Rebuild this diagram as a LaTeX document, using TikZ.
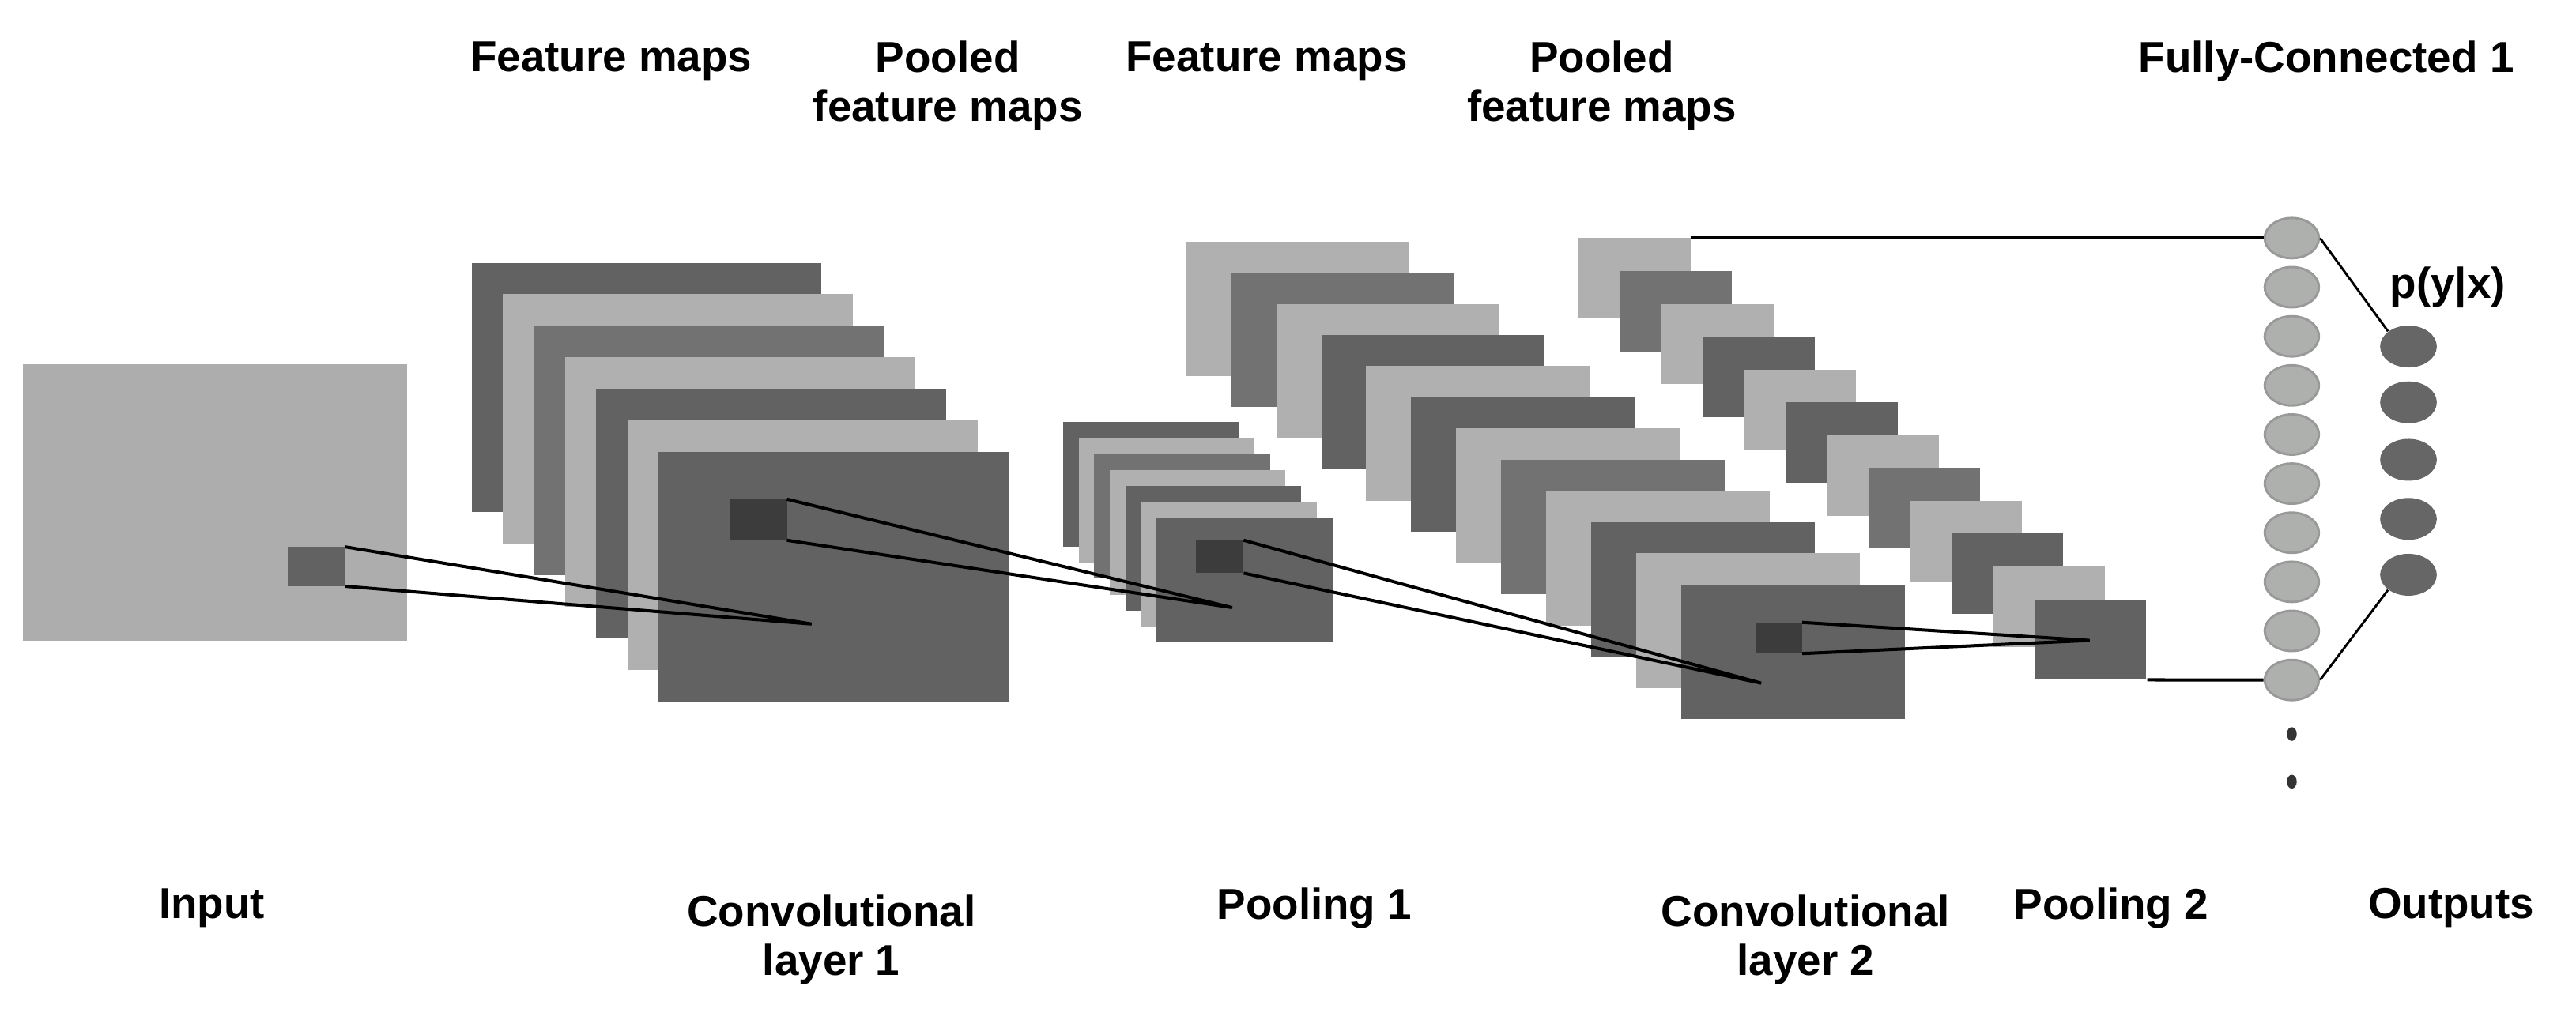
\documentclass[tikz,border=0pt]{standalone}
\usepackage{fontspec}
\setmainfont{Liberation Sans}
\usetikzlibrary{shapes.geometric}
\begin{document}
\begin{tikzpicture}[x=0.02cm,y=-0.02cm,
  lab/.style={font=\fontsize{15}{17}\selectfont\bfseries,align=center},
  ln/.style={line width=1.1pt,black},
  fcn/.style={ellipse,draw=gray!80,line width=0.8pt,fill={rgb,255:red,174;green,176;blue,174},minimum width=0.66cm,minimum height=0.49cm,inner sep=0pt},
  outn/.style={ellipse,fill={rgb,255:red,102;green,102;blue,102},minimum width=0.69cm,minimum height=0.51cm,inner sep=0pt}]
\definecolor{L}{RGB}{176,176,176}
\definecolor{M}{RGB}{114,114,114}
\definecolor{D}{RGB}{98,98,98}
\definecolor{K}{RGB}{60,60,60}
\definecolor{I}{RGB}{173,173,173}
\useasboundingbox (0,0) rectangle (1568,621);
% input
\fill[I] (14,222) rectangle (248,390);
\fill[D] (175,333) rectangle (210,357);
\coordinate (i1) at (210,333); \coordinate (i2) at (210,357);
% conv1
\foreach \c [count=\k from 0] in {D,L,M,L,D,L,D}
  \fill[\c] (287+19*\k,160+19.2*\k) rectangle ++(213,152);
\fill[K] (444,304) rectangle (479,329);
\coordinate (c1) at (494,380);
\coordinate (p1a) at (479,304); \coordinate (p1b) at (479,329);
\draw[ln] (i1) -- (c1) -- (i2);
% pool1
\foreach \c [count=\k from 0] in {D,L,M,L,D,L,D}
  \fill[\c] (647+9.5*\k,257+9.7*\k) rectangle ++(107,76);
\fill[K] (728,329) rectangle (757,349);
\coordinate (c2) at (750,370);
\draw[ln] (p1a) -- (c2) -- (p1b);
\coordinate (q1a) at (757,329); \coordinate (q1b) at (757,349);
% conv2
\foreach \c [count=\k from 0] in {L,M,L,D,L,D,L,M,L,D,L,D}
  \fill[\c] (722+27.4*\k,147+19.0*\k) rectangle ++(136,82);
\fill[K] (1069,379) rectangle (1097,398);
\coordinate (c3) at (1072,416);
\draw[ln] (q1a) -- (c3) -- (q1b);
\coordinate (r1a) at (1097,379); \coordinate (r1b) at (1097,398);
% pool2
\foreach \c [count=\k from 0] in {L,M,L,D,L,D,L,M,L,D,L,D}
  \fill[\c] (961+25.2*\k,145+20*\k) rectangle ++(68,49);
\coordinate (c4) at (1272,390);
\draw[ln] (r1a) -- (c4) -- (r1b);
\coordinate (pt) at (1029,145); \coordinate (pb) at (1307,414);
% FC
\foreach \k in {0,...,9}
  \node[fcn] (f\k) at (1395,145+29.9*\k) {};
\fill[black!80] (1395,447) ellipse (3 and 4.2);
\fill[black!80] (1395,476) ellipse (3 and 4.2);
\draw[ln] (pt) -- (f0.west);
\draw[ln] (pb) -- (f9.west);
\foreach \k/\y in {0/211,1/245,2/280,3/316,4/350}
  \node[outn] (o\k) at (1466,\y) {};
\draw[line width=0.8pt] (f0.east) -- (o0.north west);
\draw[line width=0.8pt] (f9.east) -- (o4.south west);
\node[lab] at (1490,175) {p(y|x)};
% labels
\node[lab] at (372,37) {Feature maps};
\node[lab] at (577,52) {Pooled\\feature maps};
\node[lab] at (771,37) {Feature maps};
\node[lab] at (975,52) {Pooled\\feature maps};
\node[lab] at (1416,37) {Fully-Connected 1};
\node[lab] at (129,553) {Input};
\node[lab] at (506,572) {Convolutional\\layer 1};
\node[lab] at (800,553) {Pooling 1};
\node[lab] at (1099,572) {Convolutional\\layer 2};
\node[lab] at (1285,553) {Pooling 2};
\node[lab] at (1492,553) {Outputs};
\end{tikzpicture}
\end{document}
